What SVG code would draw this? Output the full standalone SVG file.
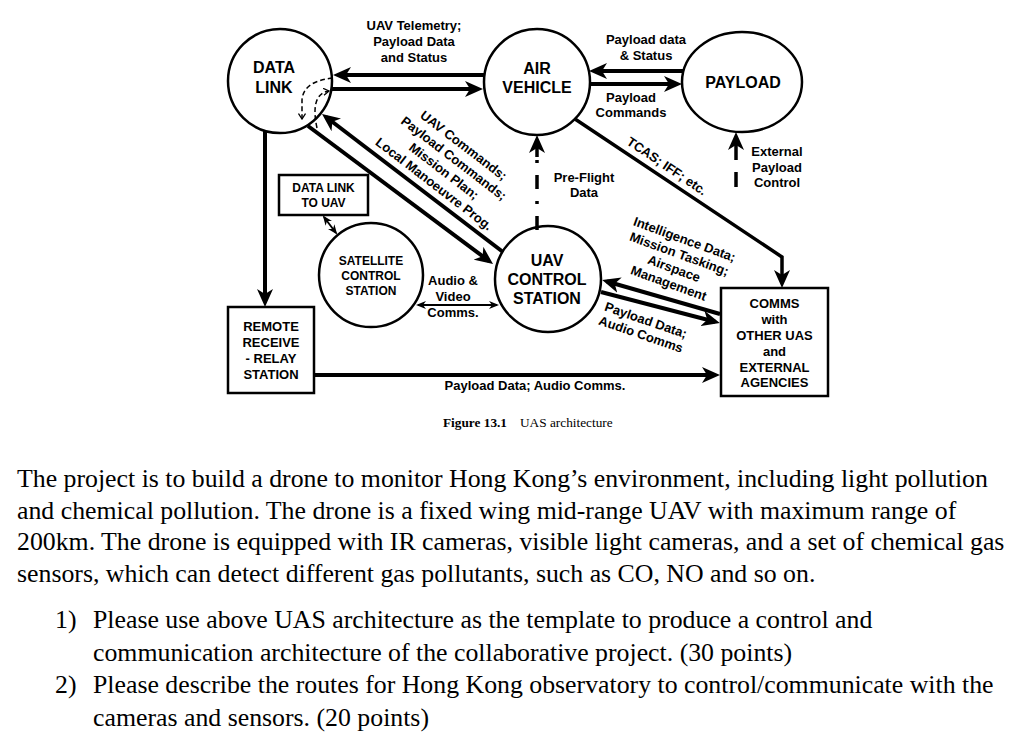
<svg xmlns="http://www.w3.org/2000/svg" width="1024" height="756" viewBox="0 0 1024 756">
<style>
.nd{fill:none;stroke:#000;stroke-width:2.5}
.c{fill:none;stroke:#000;stroke-width:4}
.t{fill:none;stroke:#000;stroke-width:1.8}
.d{fill:none;stroke:#000;stroke-width:1.5;stroke-dasharray:5 3}
text{font-family:"Liberation Sans",Arial,sans-serif;font-weight:bold;fill:#000}
.n{font-size:16px;text-anchor:middle}
.s{font-size:12px;text-anchor:middle}
.b{font-size:13px;text-anchor:middle}
.l{font-size:13px;text-anchor:middle}
.p{font-family:"Liberation Serif","Times New Roman",serif;font-weight:normal;font-size:25.8px}
.cap{font-family:"Liberation Serif","Times New Roman",serif;font-size:13.3px}
.capn{font-weight:normal}
</style>
<defs>
<marker id="ah" viewBox="0 0 18 16" markerWidth="18" markerHeight="16" refX="13" refY="8" orient="auto" markerUnits="userSpaceOnUse"><path d="M0,0 L18,8 L0,16 L5,8 z" fill="#000"/></marker>
<marker id="sm" viewBox="0 0 10 8" markerWidth="10" markerHeight="8" refX="8" refY="4" orient="auto-start-reverse" markerUnits="userSpaceOnUse"><path d="M0,0 L10,4 L0,8 L3,4 z" fill="#000"/></marker>
<marker id="op" viewBox="0 0 7 8" markerWidth="7" markerHeight="8" refX="6" refY="4" orient="auto" markerUnits="userSpaceOnUse"><path d="M0.5,0.5 L6,4 L0.5,7.5" fill="none" stroke="#000" stroke-width="1.3"/></marker>
</defs>
<rect width="1024" height="756" fill="#fff"/>

<g id="connectors">
<path class="c" d="M484,75 L338,75" marker-end="url(#ah)"/>
<path class="c" d="M332,89 L478,89" marker-end="url(#ah)"/>
<path class="c" d="M683,71 L594,71" marker-end="url(#ah)"/>
<path class="c" d="M590,84 L677,84" marker-end="url(#ah)"/>
<path class="c" d="M308,126 L489,261" marker-end="url(#ah)"/>
<path class="c" d="M503,252 L326,117" marker-end="url(#ah)"/>
<path class="c" d="M265,131 L265,302" marker-end="url(#ah)"/>
<path class="c" d="M537,157 L537,140" marker-end="url(#ah)" style="stroke-width:3.5"/>
<path class="c" d="M537,230 L537,160" style="stroke-width:3.5;stroke-dasharray:14 12 3 12"/>
<path class="c" d="M736,160 L736,137" marker-end="url(#ah)" style="stroke-width:3.5"/>
<path class="c" d="M736,172 L736,187" style="stroke-width:3.5"/>
<path class="c" d="M575,119 L782,257 L782,283" marker-end="url(#ah)" style="stroke-width:3.5"/>
<path class="c" d="M720,314 L607,281.5" marker-end="url(#ah)"/>
<path class="c" d="M601,292 L715,321.7" marker-end="url(#ah)"/>
<path class="c" d="M314,375 L715,375" marker-end="url(#ah)"/>
<path class="t" d="M418,305 L497,305" marker-start="url(#sm)" marker-end="url(#sm)"/>
<path class="t" d="M324,217 L336,233" marker-start="url(#sm)" marker-end="url(#sm)"/>
<path class="d" d="M333,78 C315,80 303,86 302,100 L302,119" marker-end="url(#op)"/>
<path class="d" d="M317,128 C313,110 314,93 329,91" marker-end="url(#op)"/>
</g>

<g id="data-link"><circle class="nd" cx="280" cy="81" r="52"/><text class="n" x="274" y="73">DATA</text><text class="n" x="274" y="93">LINK</text></g>
<g id="air-vehicle"><circle class="nd" cx="537" cy="82" r="53"/><text class="n" x="537" y="74">AIR</text><text class="n" x="537" y="93">VEHICLE</text></g>
<g id="payload"><ellipse class="nd" cx="742" cy="82" rx="60" ry="50"/><text class="n" x="743" y="88">PAYLOAD</text></g>
<g id="uav-control-station"><circle class="nd" cx="548" cy="279" r="53"/><text class="n" x="547" y="266">UAV</text><text class="n" x="547" y="285">CONTROL</text><text class="n" x="547" y="304">STATION</text></g>
<g id="satellite-control-station"><circle class="nd" cx="371" cy="275" r="52"/><text class="s" x="371" y="265">SATELLITE</text><text class="s" x="371" y="280">CONTROL</text><text class="s" x="371" y="295">STATION</text></g>
<g id="data-link-to-uav"><rect class="nd" x="279" y="175" width="89" height="40"/><text class="s" x="323.5" y="192">DATA LINK</text><text class="s" x="323.5" y="207">TO UAV</text></g>
<g id="remote-relay"><rect class="nd" x="228" y="307" width="86" height="86"/><text class="b" x="271" y="331">REMOTE</text><text class="b" x="271" y="347">RECEIVE</text><text class="b" x="271" y="363">- RELAY</text><text class="b" x="271" y="379">STATION</text></g>
<g id="comms"><rect class="nd" x="721" y="288" width="107" height="108"/><text class="b" x="774.5" y="308">COMMS</text><text class="b" x="774.5" y="324">with</text><text class="b" x="774.5" y="340">OTHER UAS</text><text class="b" x="774.5" y="356">and</text><text class="b" x="774.5" y="372">EXTERNAL</text><text class="b" x="774.5" y="387">AGENCIES</text></g>

<g id="labels">
<text class="l" x="414" y="30">UAV Telemetry;</text><text class="l" x="414" y="46">Payload Data</text><text class="l" x="414" y="62">and Status</text>
<text class="l" x="646" y="44">Payload data</text><text class="l" x="646" y="60">&amp; Status</text>
<text class="l" x="631" y="102">Payload</text><text class="l" x="631" y="117">Commands</text>
<text class="l" x="777" y="156">External</text><text class="l" x="777" y="172">Payload</text><text class="l" x="777" y="187">Control</text>
<text class="l" x="584" y="182">Pre-Flight</text><text class="l" x="584" y="197">Data</text>
<text class="l" transform="translate(667,166) rotate(34)" x="0" y="4.5">TCAS; IFF; etc.</text>
<g transform="translate(449,164.5) rotate(37.5)"><text class="l" x="0" y="-19.6">UAV Commands;</text><text class="l" x="0" y="-3.4">Payload Commands;</text><text class="l" x="0" y="12.8">Mission Plan;</text><text class="l" x="0" y="29">Local Manoeuvre Prog.</text></g>
<g transform="translate(676.7,261) rotate(20)"><text class="l" x="0" y="-18.6">Intelligence Data;</text><text class="l" x="0" y="-3.1">Mission Tasking;</text><text class="l" x="0" y="12.5">Airspace</text><text class="l" x="0" y="28">Management</text></g>
<g transform="translate(643.5,327) rotate(19)"><text class="l" x="0" y="-2.8">Payload Data;</text><text class="l" x="0" y="12.2">Audio Comms</text></g>
<text class="l" x="453" y="284.5">Audio &amp;</text><text class="l" x="453" y="300.5">Video</text><text class="l" x="453" y="316.5">Comms.</text>
<text class="l" x="535" y="390">Payload Data; Audio Comms.</text>
</g>

<text class="cap" x="443" y="426.5">Figure 13.1</text>
<text class="cap capn" x="520" y="426.5">UAS architecture</text>

<g id="body">
<text class="p" x="17" y="487">The project is to build a drone to monitor Hong Kong’s environment, including light pollution</text>
<text class="p" x="17" y="518.5">and chemical pollution. The drone is a fixed wing mid-range UAV with maximum range of</text>
<text class="p" x="17" y="550">200km. The drone is equipped with IR cameras, visible light cameras, and a set of chemical gas</text>
<text class="p" x="17" y="581.5">sensors, which can detect different gas pollutants, such as CO, NO and so on.</text>
<text class="p" x="55" y="628">1)</text><text class="p" x="93" y="628">Please use above UAS architecture as the template to produce a control and</text>
<text class="p" x="93" y="661">communication architecture of the collaborative project. (30 points)</text>
<text class="p" x="55" y="693">2)</text><text class="p" x="93" y="693">Please describe the routes for Hong Kong observatory to control/communicate with the</text>
<text class="p" x="93" y="726">cameras and sensors. (20 points)</text>
</g>
</svg>
